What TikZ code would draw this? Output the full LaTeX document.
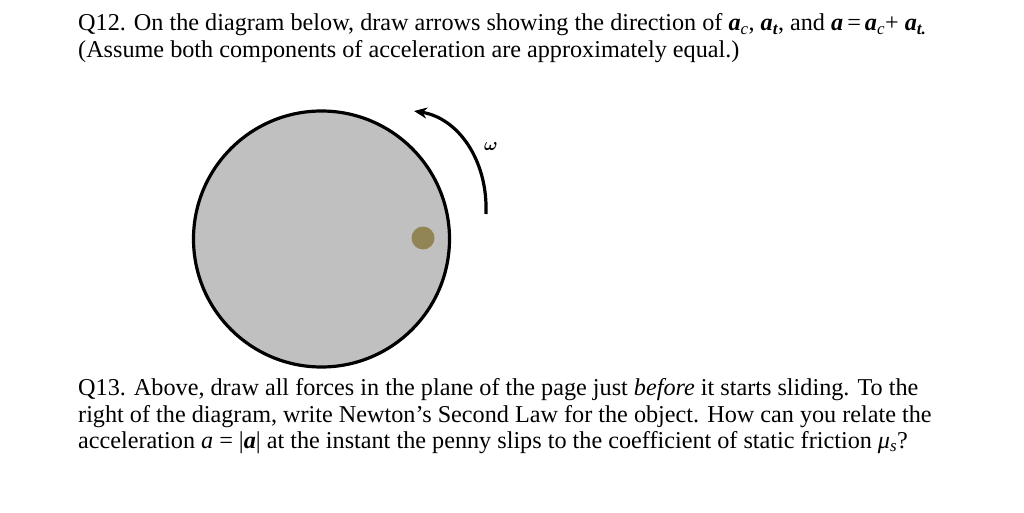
\documentclass[tikz,border=0pt]{standalone}
\usepackage{fontspec}
\setmainfont{Liberation Serif}
\usetikzlibrary{arrows.meta}
\tikzset{
  txt/.style={anchor=base west, inner sep=0pt, font=\fontsize{24.2}{27}\selectfont},
  disc/.style={draw=black, line width=3.2pt, fill=discgray},
  penny/.style={fill=pennycol, draw=none},
  rot/.style={line width=3.2pt, -{Stealth[length=13pt,width=11pt]}}
}
\definecolor{discgray}{RGB}{192,192,192}
\definecolor{pennycol}{RGB}{145,133,85}
\newcommand{\bv}[1]{{\bfseries\itshape #1}}
\begin{document}
\begin{tikzpicture}[x=1pt,y=-1pt]
\useasboundingbox (0,0) rectangle (1024,513);
\fill[white] (0,0) rectangle (1024,513);
% text Q12
\node[txt] (l1) at (78,31) {Q12. On the diagram below, draw arrows showing the direction of \bv{a}\textsubscript{\itshape c}, \bv{a}\textsubscript{\bfseries\itshape t}, and \bv{a}\,=\,\bv{a}\textsubscript{\itshape c}+ \bv{a}\textsubscript{\bfseries\itshape t.}};
\node[txt] (l2) at (78,58) {(Assume both components of acceleration are approximately equal.)};
% disc
\node[disc, circle, minimum size=256pt, inner sep=0pt] (disc) at (321.5,239) {};
\node[penny, circle, minimum size=23pt, inner sep=0pt] (pen) at (423,238) {};
% rotation arrow
\coordinate (a0) at (486,214);
\coordinate (a1) at (414,111);
\draw[rot] (a0) .. controls (488,160) and (458,118) .. (a1);
\node[inner sep=0pt, scale=1.8, font=\boldmath] (w) at (491,147) {$\omega$};
% text Q13
\node[txt] (m1) at (78,395) {Q13. Above, draw all forces in the plane of the page just \emph{before} it starts sliding. To the};
\node[txt] (m2) at (78,422) {right of the diagram, write Newton’s Second Law for the object. How can you relate the};
\node[txt] (m3) at (78,448) {acceleration \textit{a} = |\bv{a}| at the instant the penny slips to the coefficient of static friction {\itshape μ\textsubscript{s}}?};
\end{tikzpicture}
\end{document}
